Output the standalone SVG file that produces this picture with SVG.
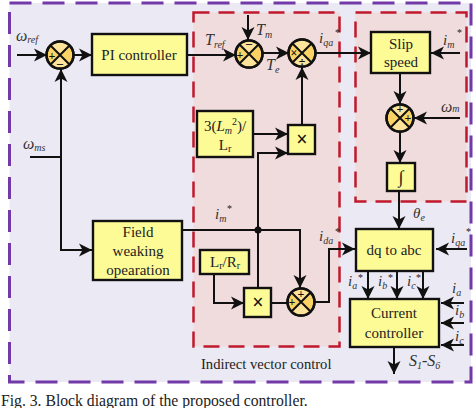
<svg xmlns="http://www.w3.org/2000/svg" width="474" height="408" viewBox="0 0 474 408">
<style>
.box{fill:#fdfb96;stroke:#111;stroke-width:2.4}
.sumc{fill:#fbd365;stroke:#111;stroke-width:2.4}
.lt{fill:#fde49a}
.x{stroke:#111;stroke-width:2;fill:none}
.w{fill:none;stroke:#111;stroke-width:2}
text{font-family:"Liberation Serif",serif;fill:#222}
.t{font-size:15px;text-anchor:middle}
.i{font-style:italic;font-size:15px;fill:#333}
.s{font-size:10px}
.b{font-size:12px;font-weight:bold;text-anchor:middle;fill:#111}
</style>
<defs>
<marker id="a" markerUnits="userSpaceOnUse" markerWidth="16" markerHeight="16" refX="13" refY="8" orient="auto"><path d="M0 1.500L13 8L0 14.500L3.500 8Z" fill="#111"/></marker>
<g id="sum"><circle class="sumc" r="13.500"/><path class="lt" d="M-9-9L0 0L9-9A13 13 0 0 0-9-9ZM-9 9L0 0L9 9A13 13 0 0 1-9 9Z"/><circle r="13.500" fill="none" stroke="#111" stroke-width="2.400"/><path class="x" d="M-9.500-9.500L9.500 9.500M9.500-9.500L-9.500 9.500"/></g>
</defs>
<rect width="474" height="408" fill="#fff"/>
<g id="outer-frame"><rect x="9.500" y="3" width="461.500" height="379" fill="#ebe9f3" stroke="#7239a8" stroke-width="3" stroke-dasharray="22 11"/></g>
<g id="ivc-frame"><rect x="193.500" y="12.500" width="146" height="334" fill="#f0dcdc" stroke="#c0182c" stroke-width="2.500" stroke-dasharray="16 9"/></g>
<g id="slip-frame"><rect x="355.500" y="12.500" width="111" height="189" fill="#f0dcdc" stroke="#c0182c" stroke-width="2.500" stroke-dasharray="16 9"/></g>
<g id="connectors">
<path class="w" marker-end="url(#a)" d="M17 55H47"/>
<path class="w" marker-end="url(#a)" d="M73 55H92"/>
<path class="w" marker-end="url(#a)" d="M61 204V69"/>
<path class="w" d="M30 157H61"/>
<path class="w" marker-end="url(#a)" d="M61 204V250H92"/>
<path class="w" marker-end="url(#a)" d="M187 55H236"/>
<path class="w" marker-end="url(#a)" d="M248 15V40"/>
<path class="w" marker-end="url(#a)" d="M262 53H289"/>
<path class="w" marker-end="url(#a)" d="M302 125V67"/>
<path class="w" marker-end="url(#a)" d="M315 53H371"/>
<path class="w" marker-end="url(#a)" d="M460 53H431"/>
<path class="w" marker-end="url(#a)" d="M400 73V104"/>
<path class="w" marker-end="url(#a)" d="M460 118H414"/>
<path class="w" marker-end="url(#a)" d="M400 132V163"/>
<path class="w" marker-end="url(#a)" d="M399 191V229"/>
<path class="w" marker-end="url(#a)" d="M253 134H288"/>
<path class="w" marker-end="url(#a)" d="M258 288V153H288"/>
<path class="w" marker-end="url(#a)" d="M182 230H300V288"/>
<circle id="junction" cx="258" cy="230" r="3.500" fill="#111"/>
<path class="w" marker-end="url(#a)" d="M214 274V303H244"/>
<path class="w" d="M271 303H287"/>
<path class="w" marker-end="url(#a)" d="M314 302H329V249H355"/>
<path class="w" marker-end="url(#a)" d="M467 249H436"/>
<path class="w" marker-end="url(#a)" d="M368 271V299"/>
<path class="w" marker-end="url(#a)" d="M397 271V299"/>
<path class="w" marker-end="url(#a)" d="M423 271V299"/>
<path class="w" marker-end="url(#a)" d="M464 303H441"/>
<path class="w" marker-end="url(#a)" d="M464 323H441"/>
<path class="w" marker-end="url(#a)" d="M464 345H441"/>
<path class="w" marker-end="url(#a)" d="M394 347V374"/>
</g>
<g id="sum1"><use href="#sum" x="60" y="55"/><text class="b" x="52" y="60">+</text><text class="b" x="60" y="67">–</text></g>
<g id="pi"><rect class="box" x="92" y="34" width="95" height="41"/><text class="t" x="139" y="60">PI controller</text></g>
<g id="sum2"><use href="#sum" x="249" y="54"/><text class="b" x="240" y="59">+</text><text class="b" x="249" y="47">–</text></g>
<g id="sum3"><use href="#sum" x="302" y="53"/><text class="b" x="294" y="57" font-size="10">×</text><text class="b" x="302" y="66">÷</text></g>
<g id="slip"><rect class="box" x="371" y="32" width="59" height="41"/><text class="t" x="401" y="49">Slip</text><text class="t" x="401" y="67">speed</text></g>
<g id="sum4"><use href="#sum" x="400" y="118"/><text class="b" x="400" y="113">+</text><text class="b" x="408" y="122">+</text></g>
<g id="integ"><rect class="box" x="387" y="163" width="28" height="28"/><text class="t" x="401" y="183" font-style="italic" style="font-size:18px">∫</text></g>
<g id="mult1"><rect class="box" x="288" y="125" width="27" height="29"/><text class="b" x="302" y="146" style="font-size:20px">×</text></g>
<g id="gain"><rect class="box" x="197" y="111" width="56" height="46"/><text class="t" x="225" y="131">3(<tspan font-style="italic">L<tspan font-size="10" dy="3">m</tspan></tspan><tspan font-size="10" dy="-9">2</tspan><tspan dy="6">)/</tspan></text><text class="t" x="225" y="150">L<tspan font-size="10" dy="2">r</tspan></text></g>
<g id="field"><rect class="box" x="93" y="221" width="89" height="59"/><text class="t" x="138" y="237">Field</text><text class="t" x="138" y="256">weaking</text><text class="t" x="138" y="275">opearation</text></g>
<g id="lrrr"><rect class="box" x="200" y="250" width="49" height="24"/><text class="t" x="225" y="267">L<tspan font-size="10" dy="2">r</tspan><tspan dy="-2">/R</tspan><tspan font-size="10" dy="2">r</tspan></text></g>
<g id="mult2"><rect class="box" x="244" y="288" width="27" height="29"/><text class="b" x="258" y="309" style="font-size:20px">×</text></g>
<g id="sum5"><use href="#sum" x="301" y="302"/><text class="b" x="292" y="306">+</text><text class="b" x="301" y="298">+</text></g>
<g id="dq"><rect class="box" x="356" y="229" width="77" height="42"/><text class="t" x="394" y="255">dq to abc</text></g>
<g id="cc"><rect class="box" x="350" y="299" width="89" height="48"/><text class="t" x="394" y="318">Current</text><text class="t" x="394" y="338">controller</text></g>
<g id="labels">
<text class="i" x="16" y="41" style="font-size:16px">ω<tspan class="s" dy="2">ref</tspan></text>
<text class="i" x="23" y="149" style="font-size:16px">ω<tspan class="s" dy="2">ms</tspan></text>
<text class="i" x="205" y="45" style="font-size:16px">T<tspan class="s" dy="3">ref</tspan></text>
<text class="i" x="256" y="35" style="font-size:16px">T<tspan class="s" dy="3">m</tspan></text>
<text class="i" x="266" y="70" style="font-size:16px">T<tspan class="s" dy="3">e</tspan></text>
<text class="i" x="319" y="43">i<tspan class="s" dy="3">qa</tspan></text><text class="s" x="335" y="36">*</text>
<text class="i" x="443" y="45">i<tspan class="s" dy="3">m</tspan></text><text class="s" x="457" y="36">*</text>
<text class="i" x="441" y="112" style="font-size:16px">ω<tspan class="s" dy="0">m</tspan></text>
<text class="i" x="215" y="219">i<tspan class="s" dy="3">m</tspan></text><text class="s" x="227" y="212">*</text>
<text class="i" x="319" y="241">i<tspan class="s" dy="3">da</tspan></text><text class="s" x="335" y="235">*</text>
<text class="i" x="413" y="218">θ<tspan class="s" dy="3">e</tspan></text>
<text class="i" x="451" y="243">i<tspan class="s" dy="3">qa</tspan></text><text class="s" x="466" y="235">*</text>
<text class="i" x="348" y="286">i<tspan class="s" dy="3">a</tspan></text><text class="s" x="358" y="281">*</text>
<text class="i" x="378" y="286">i<tspan class="s" dy="3">b</tspan></text><text class="s" x="388" y="281">*</text>
<text class="i" x="407" y="286">i<tspan class="s" dy="3">c</tspan></text><text class="s" x="416" y="281">*</text>
<text class="i" x="452" y="293">i<tspan class="s" dy="3">a</tspan></text>
<text class="i" x="455" y="315">i<tspan class="s" dy="3">b</tspan></text>
<text class="i" x="455" y="341">i<tspan class="s" dy="3">c</tspan></text>
<text class="i" x="409" y="366" style="font-size:16px">S<tspan class="s" dy="3">1</tspan><tspan dy="-3">-S</tspan><tspan class="s" dy="3">6</tspan></text>
<text x="201" y="369" font-size="14.600">Indirect vector control</text>
<text x="1" y="406" font-size="15.700">Fig. 3. Block diagram of the proposed controller.</text>
</g>
</svg>
